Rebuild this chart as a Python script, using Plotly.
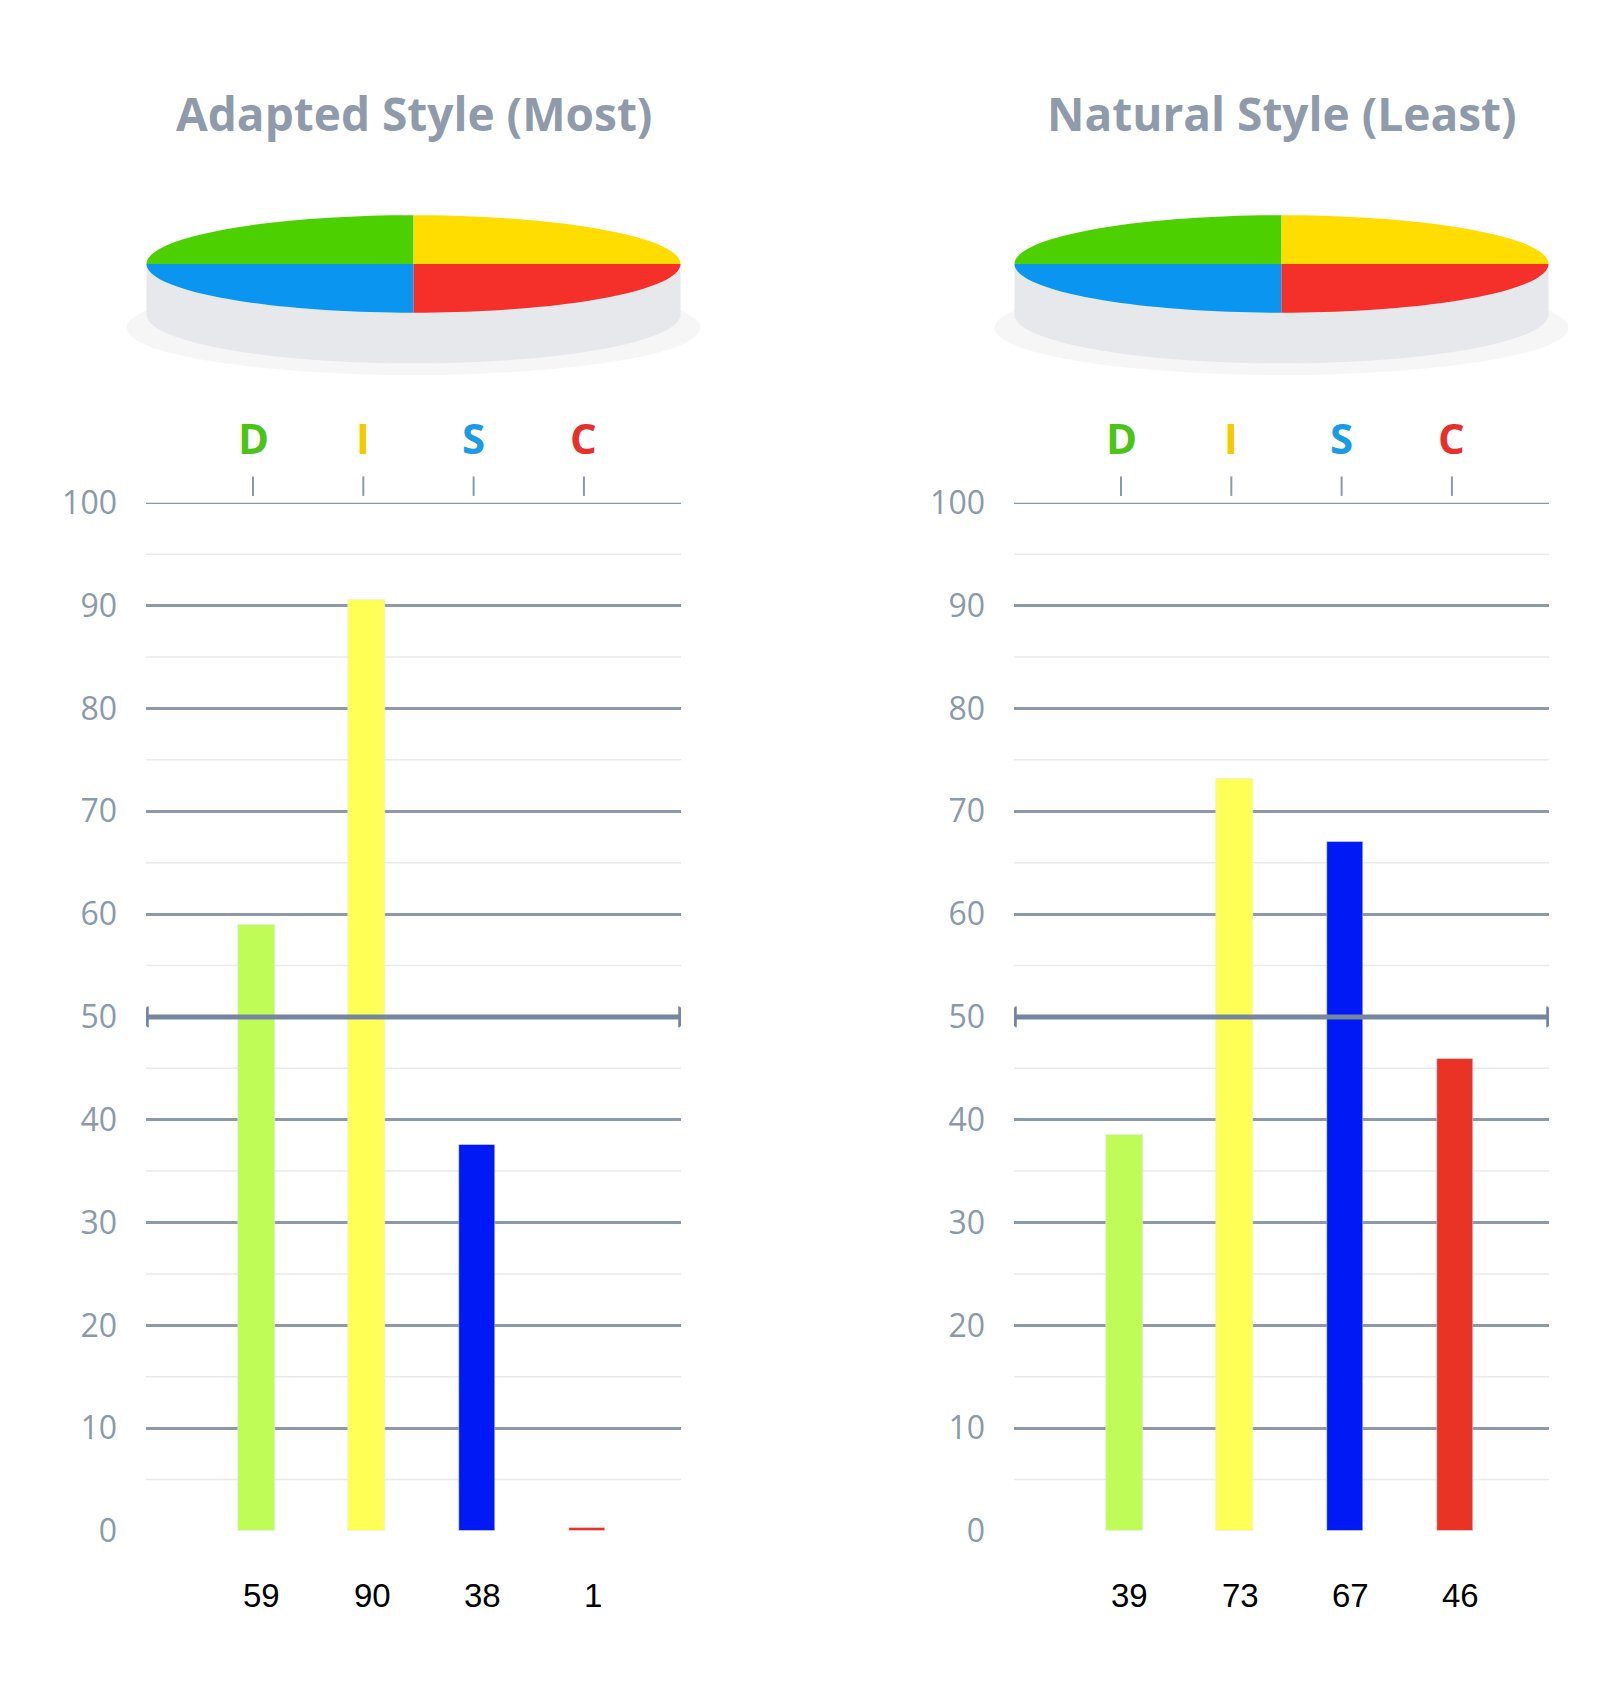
import plotly.graph_objects as go
import numpy as np

W, H = 1614, 1698
titles = ["Adapted Style (Most)", "Natural Style (Least)"]
letters = ["D", "I", "S", "C"]
letter_colors = ["#4CC417", "#F5C800", "#1A9BE6", "#E8302A"]
bar_colors = ["#BFFC57", "#FFFF55", "#0019F5", "#E83325"]
adapted = [59, 90, 38, 1]
natural = [39, 73, 67, 46]
adapted_bar = [59, 90.6, 37.6, 0.3]
natural_bar = [38.5, 73.2, 67, 45.9]
yticks = list(range(0, 101, 10))

def px(x): return x / W
def py(y): return 1 - y / H

fig = go.Figure()
plot_px = [(138, 673), (1006, 1541)]
y0p, y100p = 1539, 484
xs = [1, 2, 3, 4]
shapes, anns = [], []
for i, (vals, bars) in enumerate([(adapted, adapted_bar), (natural, natural_bar)]):
    xa = "x" if i == 0 else "x2"
    ya = "y" if i == 0 else "y2"
    fig.add_trace(go.Bar(x=xs, y=bars, marker_color=bar_colors, width=0.33,
                         xaxis=xa, yaxis=ya, showlegend=False, hoverinfo="skip"))
    l, r = plot_px[i]
    cx = (l + r) / 2
    anns.append(dict(text=f"<b>{titles[i]}</b>", x=px(cx), y=py(84), xref="paper", yref="paper",
                     xanchor="center", yanchor="middle", showarrow=False,
                     font=dict(family="Open Sans", size=46, color="#8F9BAA")))
    rx, ry = 267, 50
    cy_top, cy_bot = 239, 291
    t = np.linspace(0, np.pi, 60)
    shapes.append(dict(type="circle", xref="paper", yref="paper", x0=px(cx - rx - 20), x1=px(cx + rx + 20),
                       y0=py(cy_bot + ry + 12), y1=py(cy_bot - ry + 15), fillcolor="rgba(0,0,0,0.035)",
                       line_width=0, layer="below"))
    pts = [(cx - rx, cy_top)] + [(cx - rx * np.cos(a), cy_bot + ry * np.sin(a)) for a in t] + [(cx + rx, cy_top)]
    path = "M " + " L ".join(f"{px(a)},{py(b)}" for a, b in pts) + " Z"
    shapes.append(dict(type="path", xref="paper", yref="paper", path=path, fillcolor="#E6E8EC", line_width=0))
    quads = [(np.pi / 2, np.pi, "#4CD000"), (0, np.pi / 2, "#FFDD00"),
             (np.pi, 1.5 * np.pi, "#0A96F0"), (1.5 * np.pi, 2 * np.pi, "#F5302A")]
    for a0, a1, col in quads:
        tt = np.linspace(a0, a1, 40)
        pts = [(cx, cy_top)] + [(cx + rx * np.cos(a), cy_top - ry * np.sin(a)) for a in tt]
        path = "M " + " L ".join(f"{px(a)},{py(b)}" for a, b in pts) + " Z"
        shapes.append(dict(type="path", xref="paper", yref="paper", path=path, fillcolor=col, line_width=0))
    for k, x in enumerate(xs):
        anns.append(dict(text=f"<b>{letters[k]}</b>", x=x - 0.03, y=py(417), xref=xa, yref="paper",
                         xanchor="center", yanchor="middle", showarrow=False,
                         font=dict(family="Open Sans", size=42, color=letter_colors[k])))
        shapes.append(dict(type="line", xref=xa, yref="paper", x0=x - 0.03, x1=x - 0.03,
                           y0=py(457), y1=py(477), line=dict(color="#8C99AB", width=2)))
        anns.append(dict(text=str(vals[k]), x=x + 0.05, y=py(1605), xref=xa, yref="paper",
                         xanchor="center", yanchor="middle", showarrow=False,
                         font=dict(family="Liberation Sans", size=33, color="black")))
    for v in range(5, 100, 10):
        shapes.append(dict(type="line", xref=xa + " domain", yref=ya, x0=0, x1=1, y0=v, y1=v,
                           line=dict(color="#EAEAEA", width=1.5), layer="below"))
    shapes.append(dict(type="line", xref=xa + " domain", yref=ya, x0=0, x1=1, y0=100, y1=100,
                       line=dict(color="#8C99AB", width=2.5), layer="below"))
    # 50 arrow
    ac = "#7586A0"
    shapes.append(dict(type="line", xref=xa, yref=ya, x0=-0.05, x1=4.9, y0=50, y1=50,
                       line=dict(color=ac, width=5)))
    shapes.append(dict(type="path", xref=xa, yref=ya,
                       path="M -0.1,50 L 0.02,51 L 0.02,49 Z", fillcolor=ac, line=dict(color=ac, width=1)))
    shapes.append(dict(type="path", xref=xa, yref=ya,
                       path="M 4.95,50 L 4.83,51 L 4.83,49 Z", fillcolor=ac, line=dict(color=ac, width=1)))

dom_y = [py(y0p), py(y100p)]
axis_common = dict(range=[0, 4.85], showgrid=False, zeroline=False, showticklabels=False, fixedrange=True)
yaxis_common = dict(range=[0, 100], domain=dom_y, tickvals=yticks, showgrid=True, gridcolor="#8C99AB",
                    gridwidth=2.5, zeroline=False, ticks="", ticklabelstandoff=28,
                    tickfont=dict(family="Open Sans", size=32, color="#8C99AB"))
fig.update_layout(
    width=W, height=H, margin=dict(l=0, r=0, t=0, b=0),
    paper_bgcolor="white", plot_bgcolor="rgba(0,0,0,0)",
    xaxis=dict(domain=[px(plot_px[0][0]), px(plot_px[0][1])], anchor="y", **axis_common),
    xaxis2=dict(domain=[px(plot_px[1][0]), px(plot_px[1][1])], anchor="y2", **axis_common),
    yaxis=dict(anchor="x", **yaxis_common),
    yaxis2=dict(anchor="x2", **yaxis_common),
    shapes=shapes, annotations=anns, bargap=0,
)
fig.write_html("out.html")
